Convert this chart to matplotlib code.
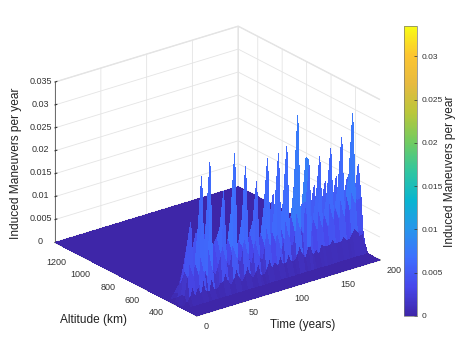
import numpy as np
import matplotlib
matplotlib.use('Agg')
import matplotlib.pyplot as plt
from matplotlib.colors import LinearSegmentedColormap, Normalize
from matplotlib.cm import ScalarMappable

plt.rcParams['font.family'] = ['Liberation Sans', 'DejaVu Sans']

# time grid (years)
time_years = [0, 3, 6, 9, 12, 15, 18, 21, 24, 27, 30, 33, 36, 39, 42, 45, 48,
              51, 54, 57, 60, 63, 66, 69, 72, 75, 78, 81, 84, 87, 90, 93, 96,
              99, 102, 105, 108, 111, 114, 117, 120, 123, 126, 129, 132, 135,
              138, 141, 144, 147, 150, 153, 156, 159, 162, 165, 168, 171, 174,
              177, 180, 183, 186, 189, 192, 195, 198, 200]
alt_km = [200, 250, 300, 325, 340, 370, 400, 450, 500, 600, 800, 1000, 1200, 1360]

# maneuvers per altitude band, peaks
man_325 = [0, 0, .001, .002, .004, .002, .004, .002, .005, .002, .002, .005,
           .002, .002, .003, .003, .005, .003, .002, .003, .005, .003, .002,
           .003, .005, .003, .002, .003, .005, .002, .002, .003, .005, .003,
           .004, .003, .005, .003, .003, .005, .003, .003, .004, .006, .004,
           .003, .005, .005, .003, .004, .003, .005, .004, .004, .004, .005,
           .004, .004, .004, .005, .004, .004, .005, .006, .005, .005, .005, .002]
man_340 = [0, 0, .002, .006, .0177, .006, .015, .006, .0269, .006, .005, .0295,
           .006, .005, .007, .009, .0222, .007, .006, .009, .0298, .007, .006,
           .009, .0263, .007, .005, .008, .0222, .006, .005, .008, .0266, .0075,
           .0183, .008, .0269, .006, .008, .0279, .008, .006, .009, .0339, .009,
           .008, .0242, .0235, .008, .0176, .008, .0234, .008, .0177, .008, .0245,
           .009, .0181, .009, .0262, .009, .017, .010, .0307, .011, .0191, .012, .004]
man_370 = [0, 0, .002, .007, .012, .008, .011, .008, .015, .009, .008, .016,
           .010, .009, .011, .012, .014, .010, .008, .011, .016, .009, .008,
           .010, .014, .010, .008, .011, .013, .009, .008, .010, .015, .011,
           .012, .010, .015, .009, .011, .015, .011, .009, .012, .018, .012,
           .011, .014, .014, .010, .012, .010, .014, .011, .012, .010, .014,
           .012, .012, .011, .015, .012, .012, .013, .017, .013, .012, .011, .003]
man_400 = [0, 0, .001, .004, .007, .005, .006, .006, .008, .006, .005, .008,
           .006, .006, .007, .007, .008, .007, .005, .007, .008, .006, .005,
           .006, .008, .007, .005, .007, .008, .006, .005, .007, .008, .007,
           .007, .007, .008, .006, .007, .008, .007, .006, .007, .009, .008,
           .007, .008, .008, .007, .007, .007, .008, .007, .007, .007, .008,
           .007, .007, .007, .008, .008, .007, .008, .009, .008, .007, .007, .002]
man_450 = [0, 0, 0, .001, .001, .001, .001, .001, .002, .001, .001, .002,
           .001, .001, .001, .001, .002, .001, .001, .001, .002, .001, .001,
           .001, .002, .001, .001, .001, .002, .001, .001, .001, .002, .001,
           .002, .001, .002, .001, .001, .002, .001, .001, .002, .002, .002,
           .002, .002, .002, .002, .002, .002, .002, .002, .002, .002, .002,
           .002, .002, .002, .002, .002, .002, .002, .002, .002, .002, .002, 0]

parula_colors = ['#3e26a8', '#4747eb', '#3e6ffe', '#2796eb', '#08b5d0',
                 '#31c69f', '#71cb61', '#b9c73b', '#e6ba40', '#fcc531', '#f9fb15']
parula = LinearSegmentedColormap.from_list('parula', parula_colors)

t = np.array(time_years)
a = np.array(alt_km)
Z = np.zeros((len(a), len(t)))
Z[3, :] = man_325
Z[4, :] = man_340
Z[5, :] = man_370
Z[6, :] = man_400
Z[7, :] = man_450
T, A = np.meshgrid(t, a)

fig = plt.figure(figsize=(4.74, 3.55), dpi=100)
ax = fig.add_axes([35.2/474, 1.7/355, 355/474, 1], projection='3d')
ax.set_proj_type('ortho')
ax.view_init(elev=23.4, azim=-127.5)
ax.set_box_aspect((231, 233, 175), zoom=1.016)

ax.plot_surface(T, A, Z, cmap=parula, norm=Normalize(0, .08), rstride=1, cstride=1,
                linewidth=0, antialiased=False, shade=False)

ax.set_xlim(0, 200, view_margin=0)
ax.set_ylim(200, 1360, view_margin=0)
ax.set_zlim(0, .035, view_margin=0)
ax.set_xticks([0, 50, 100, 150, 200])
ax.set_yticks([400, 600, 800, 1000, 1200])
ax.set_zticks([0, .005, .01, .015, .02, .025, .03, .035])
ax.set_zticklabels(['0', '0.005', '0.01', '0.015', '0.02', '0.025', '0.03', '0.035'])

for axis in [ax.xaxis, ax.yaxis, ax.zaxis]:
    axis.set_pane_color((1, 1, 1, 1))
    axis.pane.set_edgecolor('#e4e4e4')
    axis._axinfo['grid'].update(color='#e4e4e4', linewidth=.6)
    axis.line.set_color('#555555')
    axis.line.set_linewidth(.6)
    axis._axinfo['tick'].update(inward_factor=0, outward_factor=.12)
ax.tick_params(labelsize=6.5, colors='#333333', width=.5, pad=-2)
plt.setp(ax.get_xticklabels(), va='center', ha='left')
plt.setp(ax.get_yticklabels(), va='center', ha='right')
plt.setp(ax.get_zticklabels(), va='center')
ax.grid(True)

fig.text(303/474, 1-325/355, 'Time (years)', fontsize=8.4, color='#222222', ha='center', va='center')
fig.text(93/474, 1-320/355, 'Altitude (km)', fontsize=8.6, color='#222222', ha='center', va='center')
fig.text(16/474, 1-163/355, 'Induced Maneuvers per year', fontsize=8.6, color='#222222',
         rotation=90, ha='center', va='center')

# colorbar
cax = fig.add_axes([404/474, 1-316/355, 13/474, 290/355])
sm = ScalarMappable(norm=Normalize(0, .0335), cmap=parula)
cb = fig.colorbar(sm, cax=cax)
cb.set_ticks([0, .005, .01, .015, .02, .025, .03])
cb.set_ticklabels(['0', '0.005', '0.01', '0.015', '0.02', '0.025', '0.03'])
cb.ax.tick_params(labelsize=6, length=2, width=.5, colors='#333333', direction='in', pad=3)
cb.outline.set_edgecolor('#777777')
cb.outline.set_linewidth(.5)
fig.text(450/474, 1-171/355, 'Induced Maneuvers per year', fontsize=8.6, color='#222222',
         rotation=90, ha='center', va='center')

fig.savefig('out.png', dpi=100)
